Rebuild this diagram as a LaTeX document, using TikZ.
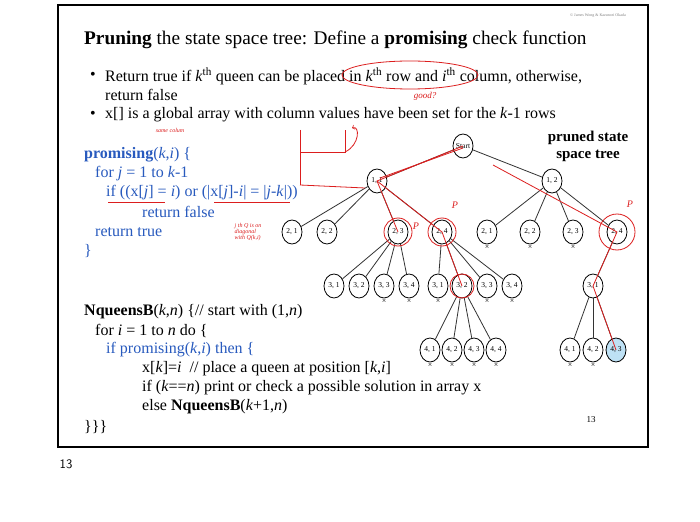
\documentclass[tikz,border=0pt]{standalone}
\usepackage{fontspec}
\setmainfont{Liberation Serif}
\usetikzlibrary{shapes.geometric}
\definecolor{codeblue}{RGB}{40,90,190}
\definecolor{leafblue}{RGB}{190,225,245}
\definecolor{pen}{RGB}{220,30,30}
\begin{document}
\begin{tikzpicture}[x=1pt,y=-1pt,
  tn/.style={ellipse,draw,thick,minimum width=20pt,minimum height=24pt,inner sep=0pt,font=\fontsize{7.5}{8}\selectfont},
  xm/.style={font=\fontsize{8}{8}\selectfont,anchor=north,inner sep=1pt},
  body/.style={anchor=west,inner sep=0pt,font=\fontsize{16}{18}\selectfont},
  code/.style={anchor=west,inner sep=0pt,font=\fontsize{16}{18}\selectfont},
  edge/.style={thick,black!80},
  ink/.style={pen,thick}]
\useasboundingbox (0,0) rectangle (700,521);
\fill[white] (0,0) rectangle (700,521);
\draw[line width=1.5pt] (58,5) rectangle (648,447);
\node[font=\fontsize{4}{4}\selectfont,text=gray] (copy) at (598,16) {© James Wong \& Kazunori Okada};
\node[body,font=\fontsize{19.3}{21}\selectfont] (title) at (84,40) {\textbf{Pruning} the state space tree: Define a \textbf{promising} check function};
\node[body] (b1) at (90,76) {•};
\node[body] (l1) at (105,76) {Return true if \textit{k}\textsuperscript{th} queen can be placed in \textit{k}\textsuperscript{th} row and \textit{i}\textsuperscript{th} column, otherwise,};
\node[body] (l2) at (105,95) {return false};
\node[body] (b2) at (90,115) {•};
\node[body] (l3) at (105,115) {x[] is a global array with column values have been set for the \textit{k}-1 rows};
% code
\begin{scope}[every node/.append style={code,text=codeblue}]
\node (c1) at (84,155) {\textbf{promising}(\textit{k},\textit{i}) \{};
\node (c2) at (95,174) {for \textit{j} = 1 to \textit{k}-1};
\node (c3) at (106,193) {if ((x[\textit{j}] = \textit{i}) or (|x[\textit{j}]-\textit{i}| = |\textit{j}-\textit{k}|))};
\node (c4) at (142,212) {return false};
\node (c5) at (95,232) {return true};
\node (c6) at (84,251) {\}};
\node (c9) at (106,350) {if promising(\textit{k},\textit{i}) then \{};
\end{scope}
\node[code] (c7) at (84,312) {\textbf{NqueensB}(\textit{k},\textit{n}) \{// start with (1,\textit{n})};
\node[code] (c8) at (95,331) {for \textit{i} = 1 to \textit{n} do \{};
\node[code] (c10) at (142,369) {x[\textit{k}]=\textit{i} \ // place a queen at position [\textit{k},\textit{i}]};
\node[code] (c11) at (142,388) {if (\textit{k}==\textit{n}) print or check a possible solution in array x};
\node[code] (c12) at (142,407) {else \textbf{NqueensB}(\textit{k}+1,\textit{n})};
\node[code] (c13) at (84,427) {\}\}\}};
\node[font=\fontsize{9}{9}\selectfont] (pg) at (591,420) {13};
\node[font=\sffamily\fontsize{13}{13}\selectfont] (pg2) at (66,464) {13};
\node[align=center,font=\bfseries\fontsize{15}{17}\selectfont] (pst) at (588,146) {pruned state\\space tree};
% tree
\node[tn] (s) at (463,146) {Start};
\node[tn] (a1) at (377,181) {1, 1};
\node[tn] (a2) at (552,181) {1, 2};
\node[tn] (b21) at (292,232) {2, 1};
\node[tn] (b22) at (327,232) {2, 2};
\node[tn] (b23) at (398,232) {2, 3};
\node[tn] (b24) at (442,232) {2, 4};
\node[tn] (r21) at (487,232) {2, 1};
\node[tn] (r22) at (530,232) {2, 2};
\node[tn] (r23) at (573,232) {2, 3};
\node[tn] (r24) at (617,232) {2, 4};
\node[tn] (d31) at (334,286) {3, 1};
\node[tn] (d32) at (359,286) {3, 2};
\node[tn] (d33) at (384,286) {3, 3};
\node[tn] (d34) at (409,286) {3, 4};
\node[tn] (e31) at (438,286) {3, 1};
\node[tn] (e32) at (462,286) {3, 2};
\node[tn] (e33) at (487,286) {3, 3};
\node[tn] (e34) at (512,286) {3, 4};
\node[tn] (f31) at (593,286) {3, 1};
\node[tn] (g41) at (430,350) {4, 1};
\node[tn] (g42) at (452,350) {4, 2};
\node[tn] (g43) at (474,350) {4, 3};
\node[tn] (g44) at (496,350) {4, 4};
\node[tn] (h41) at (570,350) {4, 1};
\node[tn] (h42) at (593,350) {4, 2};
\node[tn,fill=leafblue] (h43) at (616,350) {4, 3};
\foreach \p/\c in {s/a1,s/a2,a1/b21,a1/b22,a1/b23,a1/b24,a2/r21,a2/r22,a2/r23,a2/r24,
  b23/d31,b23/d32,b23/d33,b23/d34,b24/e31,b24/e32,b24/e33,b24/e34,r24/f31,
  e32/g41,e32/g42,e32/g43,e32/g44,f31/h41,f31/h42,f31/h43}
  \draw[edge] (\p) -- (\c);
\foreach \n in {r21,r22,r23,d33,d34,e31,e33,e34,g41,g42,g43,g44,h41,h42}
  \node[xm] at (\n.south) {×};
% handwritten red
\draw[ink] (410,75) ellipse (68 and 14);
\node[ink,font=\itshape\fontsize{9}{9}\selectfont] (good) at (425,96) {good?};
\node[ink,font=\itshape\fontsize{6}{6}\selectfont] (same) at (170,130) {same colum};
\draw[ink] (398,232) circle (14);
\draw[ink] (442,232) circle (14);
\draw[ink] (462,286) circle (12);
\draw[ink] (617,232) circle (18);
\draw[ink] (463,146) -- (377,181) -- (398,232);
\draw[ink] (463,148) -- (380,178);
\draw[ink] (377,181) -- (442,232) -- (462,286);
\draw[ink] (493,165) -- (617,232) -- (593,286) -- (616,350);
\node[ink,font=\itshape\fontsize{10}{10}\selectfont] (p1) at (416,226) {P};
\node[ink,font=\itshape\fontsize{10}{10}\selectfont] (p2) at (455,205) {P};
\node[ink,font=\itshape\fontsize{10}{10}\selectfont] (p3) at (630,204) {P};
\draw[ink] (300,185) -- (365,188);
\draw[ink] (300,130) -- (300,185);
\draw[ink] (300,152) -- (345,152) -- (345,130);
\draw[ink,->] (345,152) .. controls (360,145) and (360,125) .. (352,128);
\draw[ink] (108,202) -- (165,202);
\draw[ink] (214,202) -- (290,202);
\node[ink,font=\itshape\fontsize{6}{6}\selectfont,align=left] (diag) at (248,232) {j th Q is on\\diagonal\\with Q(k,i)};
\end{tikzpicture}
\end{document}
